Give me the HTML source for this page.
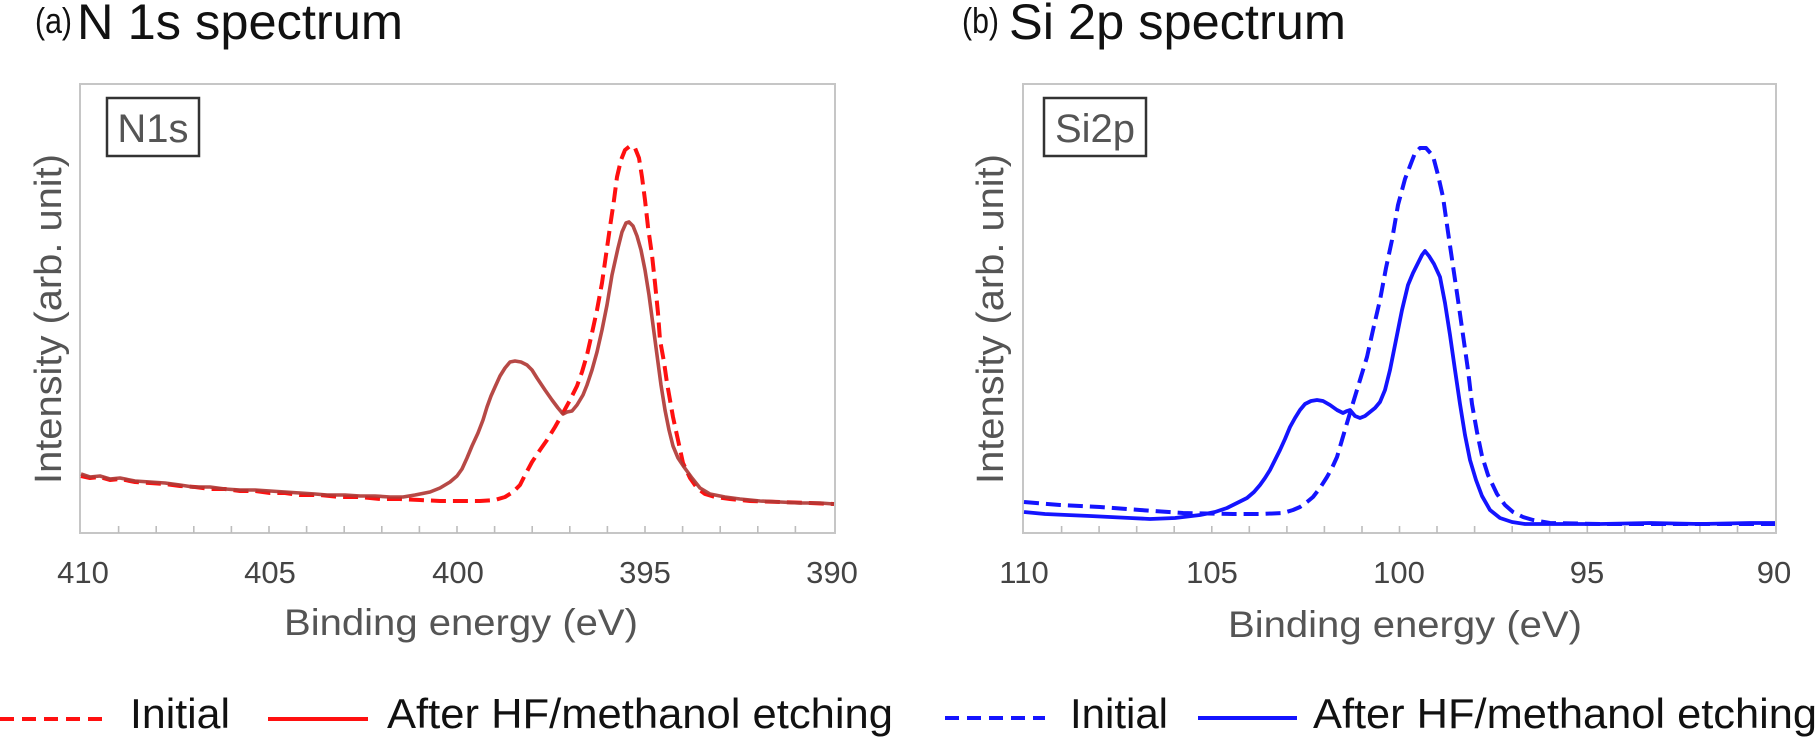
<!DOCTYPE html>
<html>
<head>
<meta charset="utf-8">
<style>
html,body{margin:0;padding:0;background:#fff;}
svg{display:block;}
text{font-family:"Liberation Sans",Arial,sans-serif;}
</style>
</head>
<body>
<svg width="1820" height="738" viewBox="0 0 1820 738" xmlns="http://www.w3.org/2000/svg">
<rect width="1820" height="738" fill="#fff"/>

<!-- Titles -->
<text x="35" y="33" font-size="36" fill="#111" textLength="37" lengthAdjust="spacingAndGlyphs">(a)</text>
<text x="77" y="39" font-size="50" fill="#111" textLength="326" lengthAdjust="spacingAndGlyphs">N 1s spectrum</text>
<text x="962" y="33" font-size="36" fill="#111" textLength="37" lengthAdjust="spacingAndGlyphs">(b)</text>
<text x="1009" y="39" font-size="50" fill="#111" textLength="337" lengthAdjust="spacingAndGlyphs">Si 2p spectrum</text>

<!-- Frames -->
<rect x="80" y="84" width="755" height="449" fill="none" stroke="#c6c6c6" stroke-width="2"/>
<rect x="1023" y="84" width="753" height="449" fill="none" stroke="#c6c6c6" stroke-width="2"/>

<!-- Ticks -->
<path stroke="#bdbdbd" stroke-width="1.6" fill="none" d="
M118.6 533V526 M156.2 533V526 M193.8 533V526 M231.4 533V526 M269 533V526 M306.6 533V526 M344.2 533V526 M381.8 533V526 M419.4 533V526 M457 533V526 M494.6 533V526 M532.2 533V526 M569.8 533V526 M607.4 533V526 M645 533V526 M682.6 533V526 M720.2 533V526 M757.8 533V526 M795.4 533V526
M1061.6 533V526 M1099.1 533V526 M1136.7 533V526 M1174.2 533V526 M1211.8 533V526 M1249.3 533V526 M1286.9 533V526 M1324.4 533V526 M1362 533V526 M1399.5 533V526 M1437 533V526 M1474.6 533V526 M1512.2 533V526 M1549.7 533V526 M1587.3 533V526 M1624.8 533V526 M1662.4 533V526 M1699.9 533V526 M1737.5 533V526"/>

<!-- Tick labels -->
<g font-size="31" fill="#444" text-anchor="middle">
<text x="83" y="583">410</text>
<text x="270" y="583">405</text>
<text x="458" y="583">400</text>
<text x="645" y="583">395</text>
<text x="832" y="583">390</text>
<text x="1024" y="583">110</text>
<text x="1212" y="583">105</text>
<text x="1399" y="583">100</text>
<text x="1587" y="583">95</text>
<text x="1774" y="583">90</text>
</g>

<!-- Axis labels -->
<text x="284" y="635" font-size="37" fill="#555" textLength="354" lengthAdjust="spacingAndGlyphs">Binding energy (eV)</text>
<text x="1228" y="637" font-size="37" fill="#555" textLength="354" lengthAdjust="spacingAndGlyphs">Binding energy (eV)</text>
<text transform="translate(61,319) rotate(-90)" font-size="38" fill="#555" text-anchor="middle" textLength="330" lengthAdjust="spacingAndGlyphs">Intensity (arb. unit)</text>
<text transform="translate(1003,319) rotate(-90)" font-size="38" fill="#555" text-anchor="middle" textLength="330" lengthAdjust="spacingAndGlyphs">Intensity (arb. unit)</text>

<!-- Inset labels -->
<rect x="107" y="98" width="92" height="58" fill="none" stroke="#333" stroke-width="2.5"/>
<text x="153" y="142" font-size="40" fill="#555" text-anchor="middle">N1s</text>
<rect x="1044" y="98" width="102" height="58" fill="none" stroke="#333" stroke-width="2.5"/>
<text x="1095" y="142" font-size="40" fill="#555" text-anchor="middle">Si2p</text>

<!-- Left: dashed initial -->
<polyline fill="none" stroke="#ff1010" stroke-width="4" stroke-dasharray="15 7" stroke-linejoin="round" points="
81,476 90,478 100,477 110,480 120,479 135,482 150,483 165,484 180,486 195,487 210,489 225,489 240,491 255,491 270,493 285,493 300,495 320,495 340,497 360,497 380,499 400,499 420,500 440,501 460,501 480,501 495,500 505,497 513,492 520,485 525,475 532,462 540,450 547,440 555,427 563,413 570,400 577,386 582,372 587,355 592,333 597,310 602,283 606,255 610,227 614,200 617,177 621,160 625,150 630,146 635,148 639,158 642,177 645,200 648,227 652,255 655,283 658,313 660,340 664,362 667,383 670,400 673,417 678,440 683,463 690,478 697,488 705,494 715,497 730,499 750,501 780,502 810,503 834,504"/>

<!-- Left: solid after -->
<polyline fill="none" stroke="#b13a36" stroke-opacity="0.92" stroke-width="3.6" stroke-linejoin="round" points="
81,474 90,477 100,476 110,479 120,478 135,481 150,482 165,483 180,485 193,487 210,487 225,489 240,490 255,490 270,491 285,492 300,493 315,494 327,495 345,495 360,496 375,496 390,497 403,497 415,495 430,492 440,488 450,482 457,476 462,469 467,458 472,446 478,433 483,420 487,407 491,396 495,387 500,376 505,368 510,362 515,361 521,362 527,365 532,370 537,378 545,390 552,400 558,408 563,414 567,412 572,411 577,405 583,395 587,385 592,370 597,352 602,330 607,305 612,275 618,248 622,232 626,223 629,222 633,226 637,236 641,250 645,270 649,295 653,325 657,355 661,385 665,410 669,430 673,446 678,458 684,467 692,478 700,488 710,494 725,497 740,499 760,501 780,502 800,503 820,503 834,504"/>

<!-- Right: dashed initial -->
<polyline fill="none" stroke="#1414ff" stroke-width="4" stroke-dasharray="15 7" stroke-linejoin="round" points="
1024,502 1060,505 1100,507 1140,510 1183,513 1233,514 1260,514 1283,513 1293,510 1300,507 1307,502 1313,497 1320,488 1327,477 1332,468 1337,457 1342,440 1347,423 1353,403 1360,380 1367,357 1373,330 1380,300 1386,268 1392,240 1398,205 1405,179 1410,166 1415,153 1420,148 1426,148 1433,156 1438,175 1443,197 1448,232 1453,266 1458,300 1463,335 1468,370 1472,404 1477,432 1482,456 1488,475 1497,494 1505,505 1513,512 1523,517 1533,520 1550,523 1600,524 1700,524 1775,524"/>

<!-- Right: solid after -->
<polyline fill="none" stroke="#1414ff" stroke-width="3.8" stroke-linejoin="round" points="
1024,512 1045,514 1067,515 1090,516 1110,517 1130,518 1150,519 1175,518 1200,515 1215,512 1227,508 1237,503 1247,498 1254,492 1260,485 1265,478 1270,470 1275,460 1280,450 1285,439 1290,427 1295,418 1300,410 1305,404 1311,401 1317,400 1323,401 1330,405 1337,410 1343,413 1347,411 1350,410 1355,416 1360,418 1365,416 1370,412 1375,408 1380,402 1385,390 1390,370 1396,340 1402,310 1408,285 1413,273 1418,263 1422,255 1425,251 1429,256 1434,264 1440,277 1445,303 1450,335 1455,370 1460,404 1465,435 1470,460 1476,480 1482,496 1490,510 1500,518 1512,522 1525,524 1550,524 1600,524 1650,523 1700,524 1750,523 1775,523"/>

<!-- Legends -->
<line x1="0" y1="719" x2="102" y2="719" stroke="#ff1010" stroke-width="4" stroke-dasharray="14 8"/>
<text x="130" y="728" font-size="42" fill="#111" textLength="100" lengthAdjust="spacingAndGlyphs">Initial</text>
<line x1="268" y1="719" x2="368" y2="719" stroke="#ff1010" stroke-width="4"/>
<text x="387" y="728" font-size="42" fill="#111" textLength="506" lengthAdjust="spacingAndGlyphs">After HF/methanol etching</text>

<line x1="945" y1="718" x2="1045" y2="718" stroke="#1414ff" stroke-width="4" stroke-dasharray="14 8"/>
<text x="1070" y="728" font-size="42" fill="#111" textLength="98" lengthAdjust="spacingAndGlyphs">Initial</text>
<line x1="1198" y1="718" x2="1297" y2="718" stroke="#1414ff" stroke-width="4"/>
<text x="1313" y="728" font-size="42" fill="#111" textLength="504" lengthAdjust="spacingAndGlyphs">After HF/methanol etching</text>
</svg>
</body>
</html>
